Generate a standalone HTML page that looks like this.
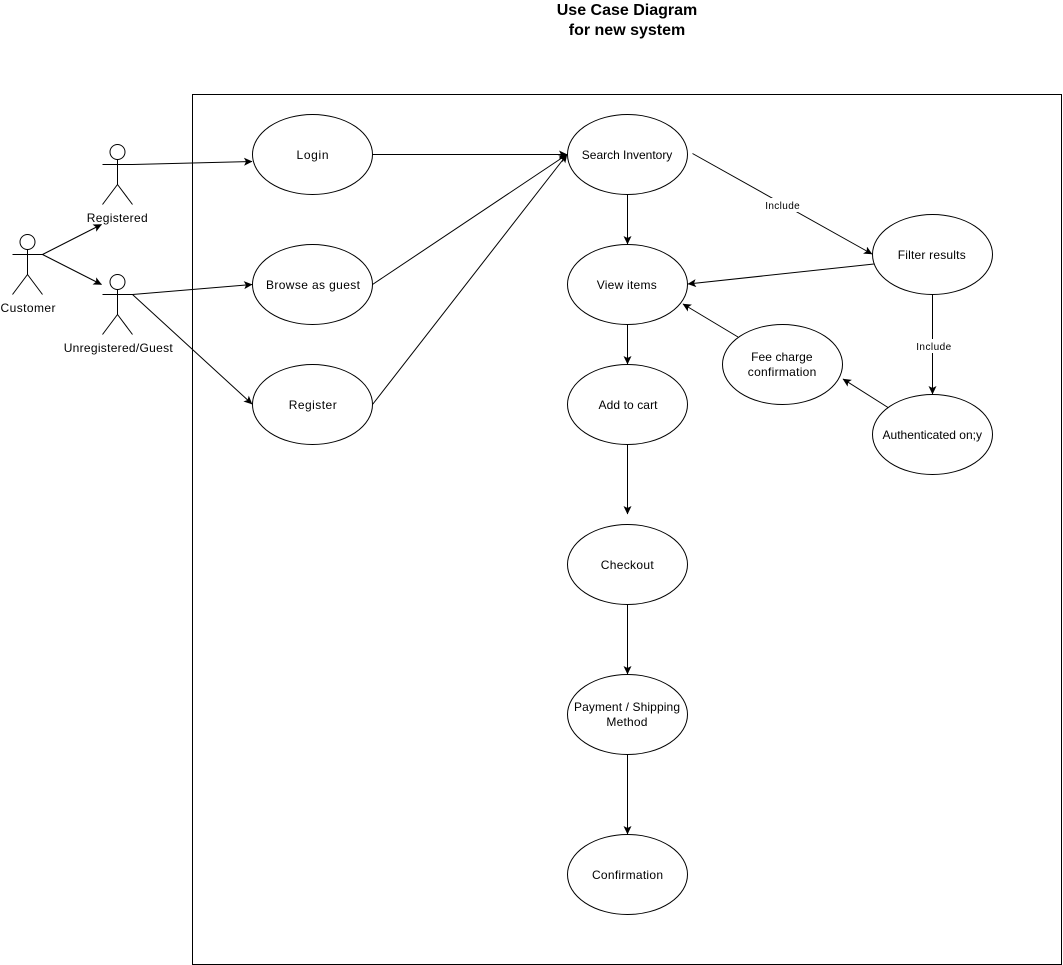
<!DOCTYPE html>
<html>
<head>
<meta charset="utf-8">
<style>
html,body{margin:0;padding:0;background:#fff;}
svg{display:block;}
text{font-family:"Liberation Sans",Arial,sans-serif;font-size:12px;fill:#000;}
.t{font-size:16px;font-weight:bold;text-anchor:middle;}
.s{font-size:10px;}
.n{fill:#fff;stroke:#000;stroke-width:1;}
.l{fill:none;stroke:#000;stroke-width:1;}
</style>
</head>
<body>
<svg width="1063" height="965" viewBox="0 0 1063 965" xmlns="http://www.w3.org/2000/svg">
<defs>
<marker id="a" markerUnits="userSpaceOnUse" markerWidth="10" markerHeight="10" refX="8" refY="4" orient="auto">
<path d="M0,0 L8.500,4 L0,8 L2,4 Z" fill="#000" stroke="none"/>
</marker>
</defs>
<text class="t" x="627" y="15">Use Case Diagram</text>
<text class="t" x="627" y="35">for new system</text>
<rect x="192.500" y="94.500" width="869" height="870" fill="#fff" stroke="#000"/>

<!-- ellipses -->
<g class="n">
<ellipse cx="312.500" cy="154.500" rx="60" ry="40"/>
<ellipse cx="312.500" cy="284.500" rx="60" ry="40"/>
<ellipse cx="312.500" cy="404.500" rx="60" ry="40"/>
<ellipse cx="627.500" cy="154.500" rx="60" ry="40"/>
<ellipse cx="627.500" cy="284.500" rx="60" ry="40"/>
<ellipse cx="627.500" cy="404.500" rx="60" ry="40"/>
<ellipse cx="627.500" cy="564.500" rx="60" ry="40"/>
<ellipse cx="627.500" cy="714.500" rx="60" ry="40"/>
<ellipse cx="627.500" cy="874.500" rx="60" ry="40"/>
<ellipse cx="932.500" cy="254.500" rx="60" ry="40"/>
<ellipse cx="932.500" cy="434.500" rx="60" ry="40"/>
<ellipse cx="782.500" cy="364.500" rx="60" ry="40"/>
</g>

<!-- actors -->
<g class="l">
<circle cx="27.500" cy="242" r="7.500"/>
<path d="M27.500 249.500V274.500M12.500 254.500H42.500M27.500 274.500L12.500 294.500M27.500 274.500L42.500 294.500"/>
<circle cx="117.500" cy="152" r="7.500"/>
<path d="M117.500 159.500V184.500M102.500 164.500H132.500M117.500 184.500L102.500 204.500M117.500 184.500L132.500 204.500"/>
<circle cx="117.500" cy="282" r="7.500"/>
<path d="M117.500 289.500V314.500M102.500 294.500H132.500M117.500 314.500L102.500 334.500M117.500 314.500L132.500 334.500"/>
</g>
<text x="0.500" y="312" textLength="55">Customer</text>
<text x="86.700" y="222" textLength="61">Registered</text>
<text x="63.700" y="352" textLength="109">Unregistered/Guest</text>

<!-- connectors -->
<g class="l">
<path d="M42.500 254.500L101.500 224.500" marker-end="url(#a)"/>
<path d="M42.500 254.500L101.500 284.500" marker-end="url(#a)"/>
<path d="M132.500 164.500L252 161.500" marker-end="url(#a)"/>
<path d="M132.500 294.500L252 284.500" marker-end="url(#a)"/>
<path d="M132.500 294.500L252 404" marker-end="url(#a)"/>
<path d="M372.500 154.500H567" marker-end="url(#a)"/>
<path d="M372.500 284.500L567 154.500" marker-end="url(#a)"/>
<path d="M372.500 404.500L567 154.500" marker-end="url(#a)"/>
<path d="M627.500 194.500V244" marker-end="url(#a)"/>
<path d="M627.500 324.500V364" marker-end="url(#a)"/>
<path d="M627.500 444.500V514" marker-end="url(#a)"/>
<path d="M627.500 604.500V674" marker-end="url(#a)"/>
<path d="M627.500 754.500V834" marker-end="url(#a)"/>
<path d="M692.500 153.500L872 254" marker-end="url(#a)"/>
<path d="M874 264L688 284" marker-end="url(#a)"/>
<path d="M932.500 294.500V394" marker-end="url(#a)"/>
<path d="M888 407.500L843 379" marker-end="url(#a)"/>
<path d="M738 337L683 304" marker-end="url(#a)"/>
</g>

<!-- edge labels -->
<rect x="765" y="198" width="35" height="14" fill="#fff"/>
<text class="s" x="765.200" y="209" textLength="34.500">Include</text>
<rect x="916" y="339" width="35" height="14" fill="#fff"/>
<text class="s" x="916.200" y="350" textLength="35">Include</text>

<!-- node labels -->
<text x="296.500" y="159" textLength="32">Login</text>
<text x="266" y="289" textLength="94">Browse as guest</text>
<text x="288.700" y="409" textLength="48">Register</text>
<text x="581.800" y="159" textLength="90.500">Search Inventory</text>
<text x="596.700" y="289" textLength="60">View items</text>
<text x="598.500" y="409" textLength="59">Add to cart</text>
<text x="600.700" y="569" textLength="53">Checkout</text>
<text x="574" y="711" textLength="106">Payment / Shipping</text>
<text x="606.400" y="726" textLength="41">Method</text>
<text x="592" y="879" textLength="71">Confirmation</text>
<text x="897.700" y="259" textLength="68">Filter results</text>
<text x="882.500" y="439" textLength="99.500">Authenticated on;y</text>
<text x="751.100" y="361" textLength="61.500">Fee charge</text>
<text x="747.800" y="376" textLength="68.500">confirmation</text>
</svg>
</body>
</html>
